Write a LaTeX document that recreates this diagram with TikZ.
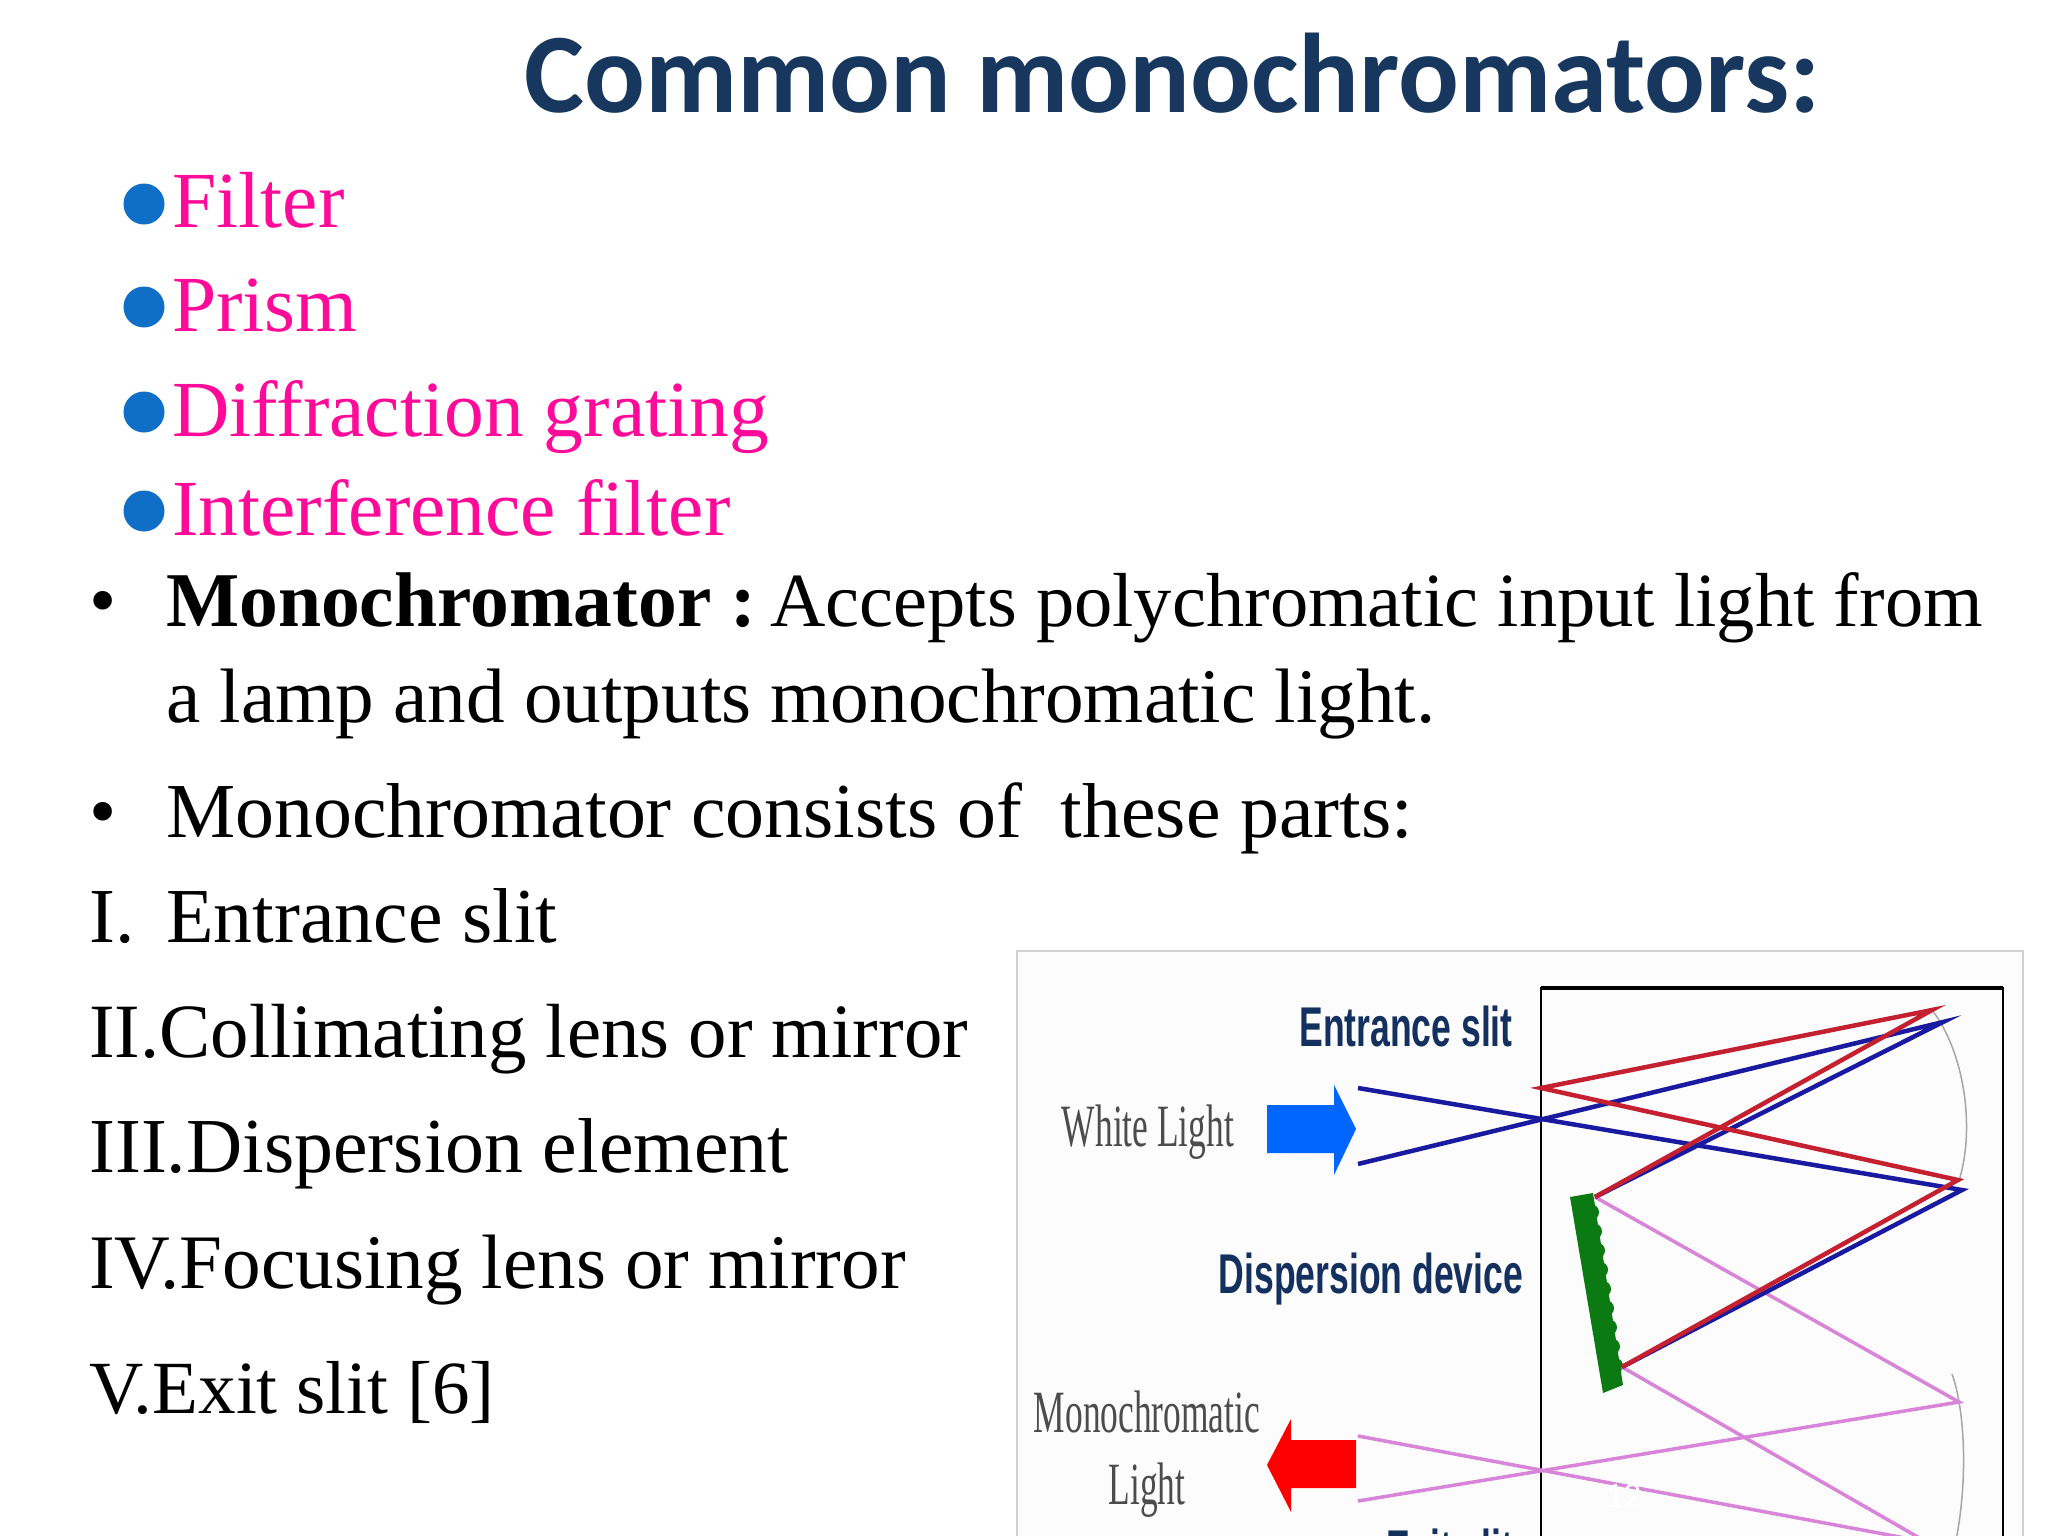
\documentclass[tikz,border=0pt]{standalone}
\usepackage{fontspec}
\usetikzlibrary{positioning,calc}
\setmainfont{Liberation Serif}
\newfontfamily\titlefont{Carlito}
\newfontfamily\labelfont[FakeStretch=0.635]{Liberation Sans}
\newfontfamily\thinfont[FakeStretch=0.59]{Liberation Serif}
\definecolor{titleblue}{HTML}{17375E}
\definecolor{listpink}{HTML}{FF0A99}
\definecolor{dotblue}{HTML}{0F6FC6}
\definecolor{rayblue}{HTML}{1A1AA0}
\definecolor{rayred}{HTML}{C42030}
\definecolor{raypink}{HTML}{D884D8}
\definecolor{gratgreen}{HTML}{0B7A12}
\definecolor{labelnavy}{HTML}{14305E}
\tikzset{
  body/.style={anchor=base west,inner sep=0pt,font=\fontsize{#1}{#1}\selectfont},
  body/.default=77.8,
  listitem/.style={body=79.5,text=listpink},
  listdot/.style={circle,fill=dotblue,minimum size=41pt,inner sep=0pt},
  partlabel/.style={anchor=base,inner sep=0pt,text=labelnavy,font=\labelfont\bfseries\fontsize{56}{56}\selectfont},
  sidelabel/.style={anchor=base,inner sep=0pt,text=black!70,font=\thinfont\fontsize{60}{60}\selectfont},
  ray/.style={line width=4.5pt,rayblue},
  redray/.style={line width=4.5pt,rayred},
  pinkray/.style={line width=3.5pt,raypink},
  mirror/.style={line width=1.5pt,black!35}
}
\begin{document}
\begin{tikzpicture}[x=1pt,y=-1pt]
  % Restricts the canvas
  \clip (0,0) rectangle (2048,1536);
  \fill[white] (0,0) rectangle (2048,1536);

  % Title and the list
  \node[anchor=base west,inner sep=0pt,text=titleblue,font=\titlefont\bfseries\fontsize{113.3}{113.3}\selectfont] (title) at (524,113) {Common monochromators:};
  \node[listdot] (dotA) at (144,204) {};
  \node[listdot] (dotB) at (144,307) {};
  \node[listdot] (dotC) at (144,412) {};
  \node[listdot] (dotD) at (144,511) {};
  \node[listitem] (filter) at (172,227) {Filter};
  \node[listitem] (prism) at (172,331) {Prism};
  \node[listitem] (grating) at (172,436) {Diffraction grating};
  \node[listitem] (interference) at (172,535) {Interference filter};

  % Black text
  \node[body] (bulletA) at (89,626) {•};
  \node[body=76.6] (mono) at (166,626) {{\fontsize{77.5}{77.5}\selectfont\bfseries Monochromator :}\hspace{-12pt} Accepts polychromatic input light from};
  \node[body=77.2] (monoB) at (166,722) {a lamp and outputs monochromatic light.};
  \node[body] (bulletB) at (89,837) {•};
  \node[body] (consists) at (166,837) {Monochromator consists of~ these parts:};
  \node[body] (partA) at (89,942) {I.};
  \node[body] (partAtext) at (166,942) {Entrance slit};
  \node[body=76.8] (partB) at (89,1057) {II.Collimating lens or mirror};
  \node[body] (partC) at (89,1172) {III.Dispersion element};
  \node[body=77.1] (partD) at (89,1288) {IV.Focusing lens or mirror};
  \node[body=75.1] (partE) at (89,1413) {V.Exit slit [6]};

  % The panel and the box
  \fill[black!1,draw=black!18,line width=2.5pt] (1017,951) rectangle (2023,1540);
  \draw[line width=2pt] (1541,1540) -- (1541,988) -- (2003,988) -- (2003,1540);
  \draw[line width=4pt] (1541,988) -- (2003,988);

  % Points of the rays
  \coordinate (inT) at (1358,1088);
  \coordinate (inB) at (1358,1164);
  \coordinate (slitR) at (1541,1088);
  \coordinate (M) at (1932,1010);
  \coordinate (Mb) at (1943,1022);
  \coordinate (N) at (1958,1180);
  \coordinate (Nb) at (1962,1190);
  \coordinate (G) at (1595,1197);
  \coordinate (H) at (1622,1367);
  \coordinate (P) at (1959,1402);
  \coordinate (Q) at (1923,1540);
  \coordinate (outT) at (1358,1436);
  \coordinate (outB) at (1358,1501);
  \coordinate (Y) at (1916,1540);
  \coordinate (gA) at (1570,1197);
  \coordinate (gB) at (1593,1193);
  \coordinate (gC) at (1623,1385);
  \coordinate (gD) at (1603,1393);
  \coordinate (mA) at (1932,1010);
  \coordinate (mC) at (1959,1181);
  \coordinate (nA) at (1952,1374);
  \coordinate (nC) at (1956,1540);

  % Mirrors
  \draw[mirror] (mA) .. controls (1963,1050) and (1976,1125) .. (mC);
  \draw[mirror] (nA) .. controls (1965,1410) and (1968,1480) .. (nC);

  % Grating
  \fill[gratgreen] (gA) -- (gB) -- (gC) -- (gD) -- cycle;
  \foreach \t in {0.1,0.2,...,0.95}
    \fill[gratgreen] ($(gB)!\t!(gC)+(-5,0)$) circle (8pt);

  % Rays
  \draw[pinkray] (G) -- (P) -- (outB);
  \draw[pinkray] (H) -- (Q);
  \draw[pinkray] (outT) -- (Y);
  \draw[ray] (inT) -- (Nb) -- (H);
  \draw[ray] (inB) -- (Mb) -- (G);
  \draw[redray] (G) -- (M) -- (slitR) -- (N) -- (H);

  % Arrows
  \fill[blue!60!cyan] (1267,1105) -- (1334,1105) -- (1334,1085) -- (1356,1129) -- (1334,1175) -- (1334,1153) -- (1267,1153) -- cycle;
  \fill[red] (1356,1440) -- (1291,1440) -- (1291,1419) -- (1267,1465) -- (1291,1512) -- (1291,1488) -- (1356,1488) -- cycle;

  % Labels
  \node[partlabel] (entrance) at (1406,1046) {Entrance slit};
  \node[partlabel] (dispersion) at (1371,1293) {Dispersion device};
  \node[partlabel] (exit) at (1450,1569) {Exit slit};
  \node[sidelabel] (white) at (1148,1146) {White Light};
  \node[sidelabel] (monolight) at (1147,1432) {Monochromatic};
  \node[sidelabel] (light) at (1147,1504) {Light};
  \node[anchor=base,inner sep=0pt,text=white,font=\titlefont\fontsize{36}{36}\selectfont] (pagenum) at (1623,1507) {12};
\end{tikzpicture}
\end{document}
